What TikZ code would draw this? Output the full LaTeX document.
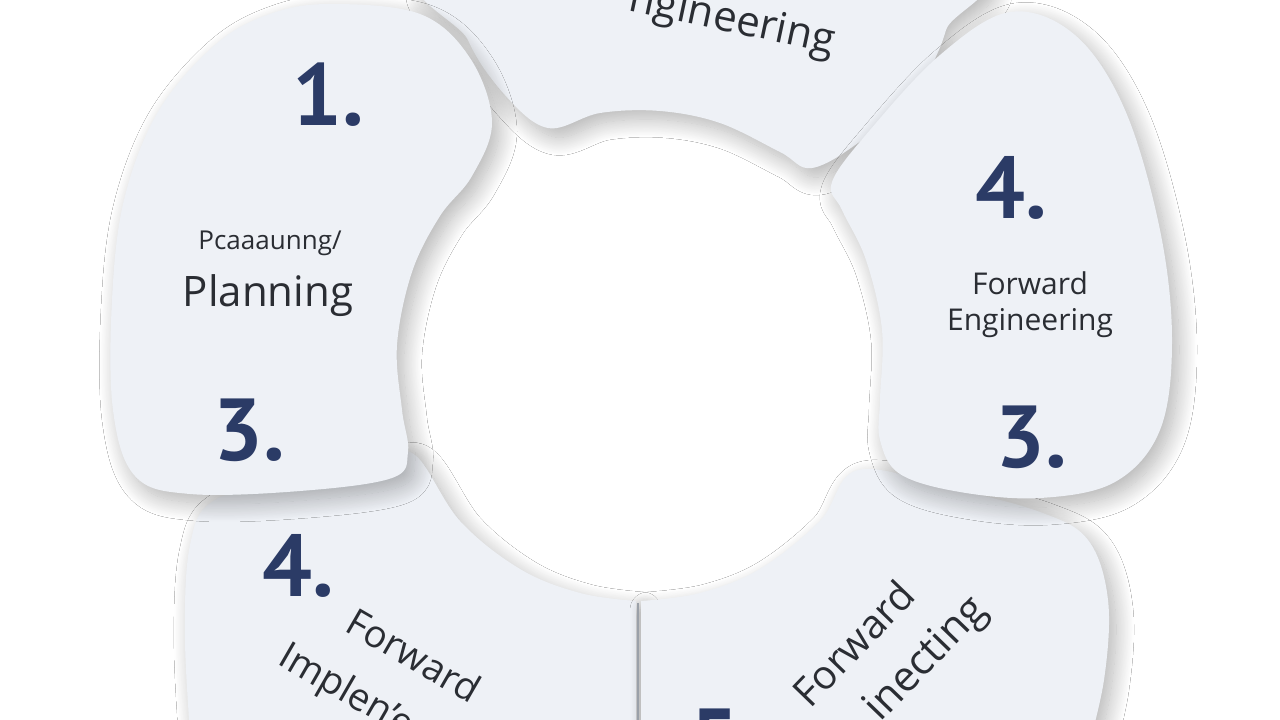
\documentclass[tikz,border=0pt]{standalone}
\usepackage{fontspec}
\setmainfont{Open Sans}
\newfontfamily\numfont{PT Sans}
\usetikzlibrary{shadows.blur}
\definecolor{petal}{HTML}{EEF1F6}
\definecolor{navy}{HTML}{2B3B66}
\definecolor{ink}{HTML}{2A2D33}
\definecolor{seam}{HTML}{9AA0A8}
\tikzset{
  petal/.style={fill=petal, blur shadow={shadow xshift=7pt, shadow yshift=-9pt, shadow blur radius=18pt, shadow blur steps=24, shadow opacity=30}},
  num/.style={font=\numfont\bfseries\fontsize{88}{88}\selectfont, text=navy, inner sep=0pt},
  lbl/.style={font=\fontsize{30}{36}\selectfont, text=ink, inner sep=0pt, align=center},
}
\begin{document}
\begin{tikzpicture}[x=1pt,y=-1pt]
\useasboundingbox (0,0) rectangle (1280,720);
\clip (0,0) rectangle (1280,720);
\fill[white] (0,0) rectangle (1280,720);

% bottom-left petal
\path[petal] plot[smooth, tension=0.6] coordinates {(636,601) (580,593) (520,569) (460,521) (415,455) (380,462) (300,478) (215,500) (190,545) (185,640) (192,760)} -- (636,760) -- cycle;
% bottom-right petal
\path[petal] plot[smooth, tension=0.6] coordinates {(641,601) (700,593) (760,569) (820,521) (858,470) (950,488) (1040,512) (1088,540) (1108,600) (1104,680) (1085,760)} -- (641,760) -- cycle;
\draw[seam, line width=1.2pt] (638,603) -- (638,720);

% top petal
\path[petal] plot[smooth cycle, tension=0.6] coordinates {(450,-30) (468,40) (505,95) (548,128) (600,113) (660,111) (720,123) (780,152) (812,168) (862,140) (915,92) (946,30) (950,-30)};

% left petal
\path[petal] plot[smooth cycle, tension=0.6] coordinates {(330,4) (420,14) (470,58) (492,122) (472,176) (440,216) (412,272) (397,345) (402,410) (408,452) (392,478) (300,491) (190,494) (135,476) (113,410) (112,300) (124,200) (158,112) (215,45) (270,14)};

% right petal
\path[petal] plot[smooth cycle, tension=0.6] coordinates {(1010,12) (1075,35) (1125,110) (1160,230) (1172,340) (1160,430) (1115,482) (1040,498) (960,492) (900,474) (880,440) (880,400) (882,330) (866,260) (842,210) (832,182) (870,130) (940,55)};

% numbers
\node[num] (n1) at (328,95) {1.};
\node[num] (n3l) at (249,430) {3.};
\node[num] (n4r) at (1011,188) {4.};
\node[num] (n3r) at (1031,437) {3.};
\node[num] (n4bl) at (298,566) {4.};
\node[num] (n5) at (725,740) {5.};

% labels
\node[lbl, font=\fontsize{26}{30}\selectfont] (garb) at (270,243) {Pcaaaunng/};
\node[lbl, font=\fontsize{42}{48}\selectfont] (plan) at (268,296) {Planning};
\node[lbl] (fwd1) at (1030,283) {Forward};
\node[lbl] (eng1) at (1030,323) {Engineering};
\node[lbl, font=\fontsize{42}{48}\selectfont, rotate=-12] (topeng) at (732,22) {ngineering};
\node[lbl, font=\fontsize{38}{44}\selectfont, rotate=-30] (fwd2) at (414,655) {Forward};
\node[lbl, font=\fontsize{38}{44}\selectfont, rotate=-30] (impl) at (366,704) {Implen'enn};
\node[lbl, font=\fontsize{40}{44}\selectfont, rotate=46] (fwd3) at (853,643) {Forward};
\node[lbl, font=\fontsize{42}{44}\selectfont, rotate=46] (inec) at (927,660) {inecting};
\end{tikzpicture}
\end{document}
